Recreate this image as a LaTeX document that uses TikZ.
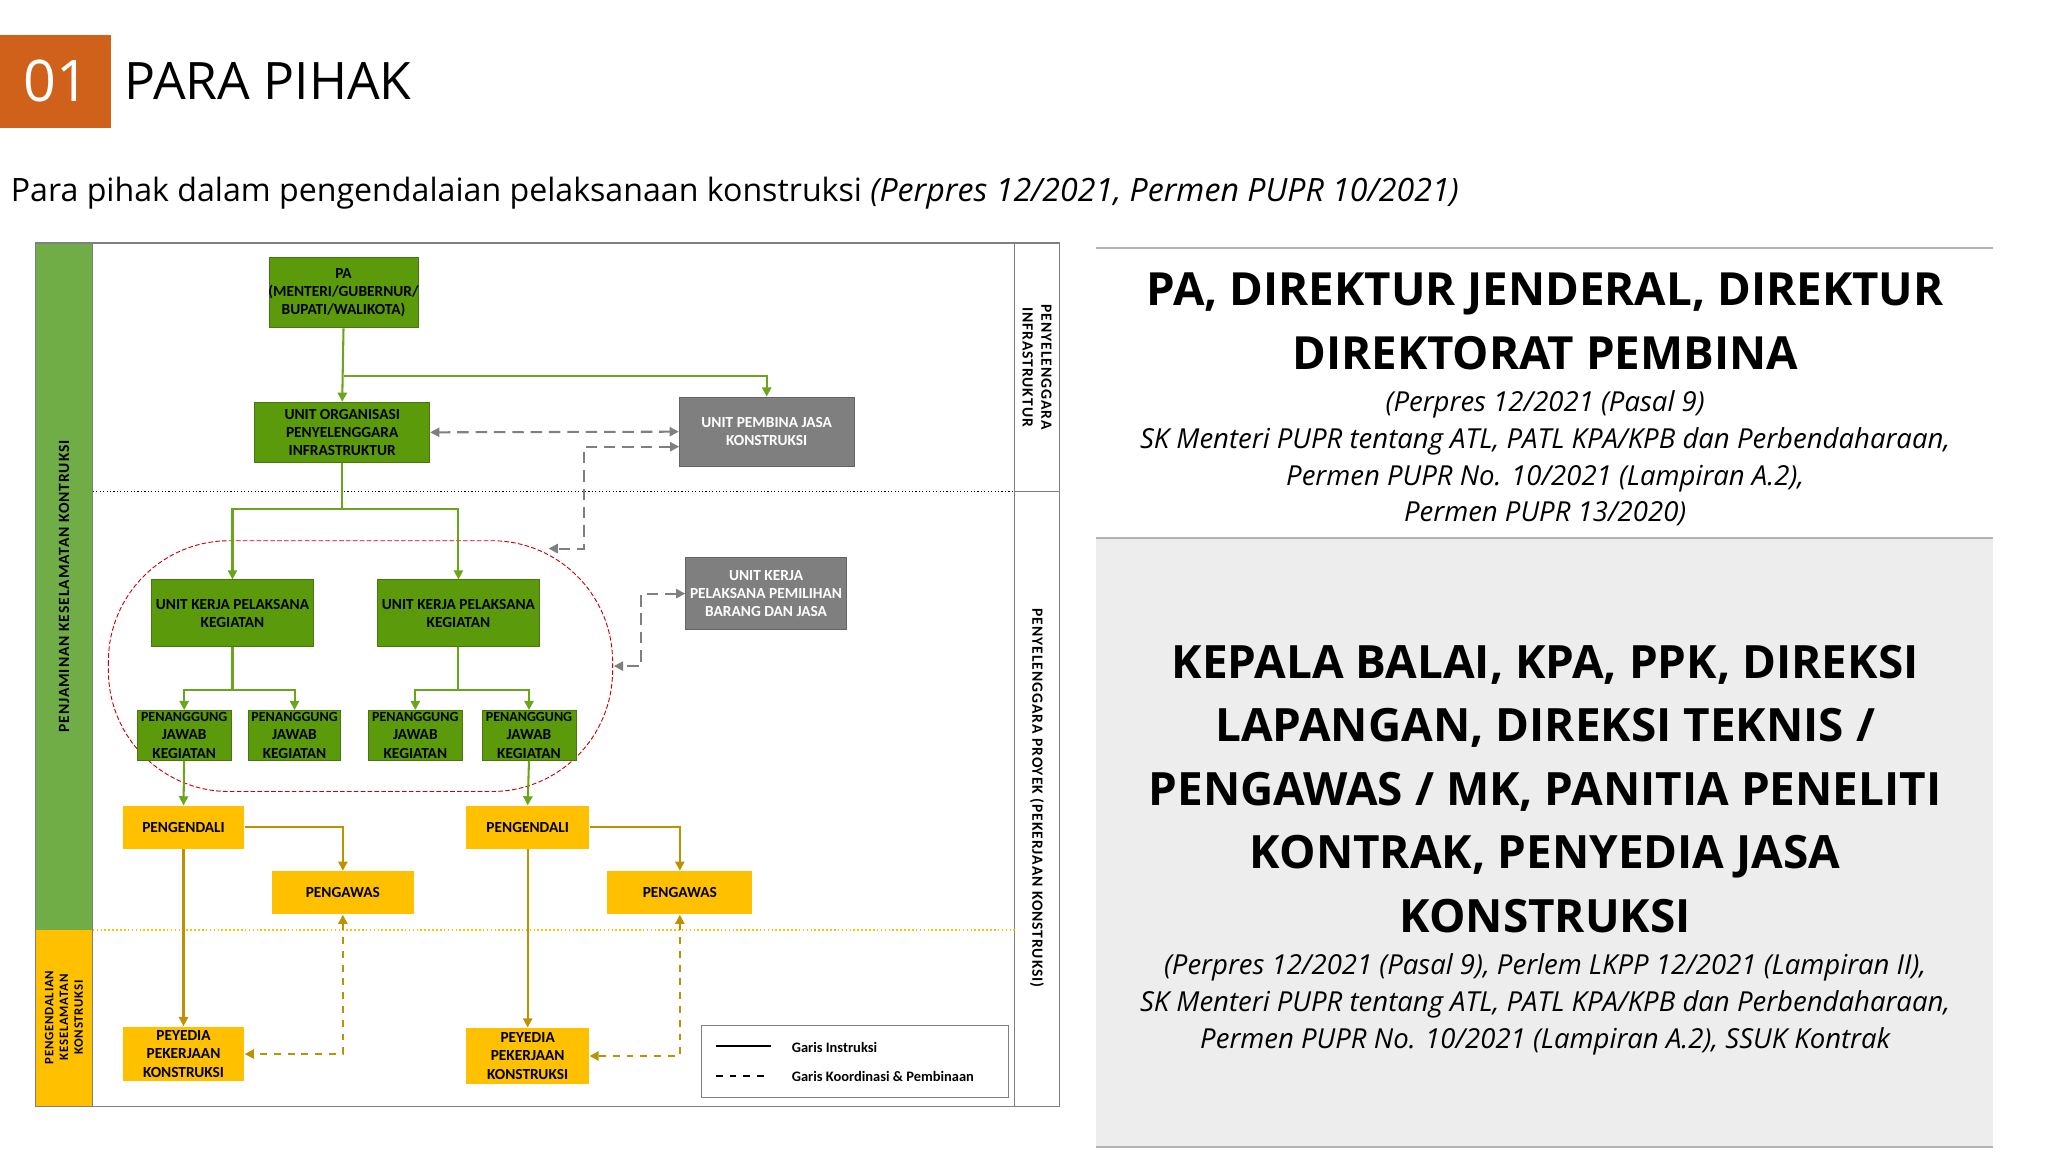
\documentclass[tikz,border=0pt]{standalone}
\usepackage{fontspec}
\setmainfont{Open Sans}
\newfontfamily\dg{Carlito}
\newfontfamily\dgw[LetterSpace=6]{Carlito}
\usetikzlibrary{fit,arrows.meta}
\definecolor{gbox}{HTML}{5B9A0A}
\definecolor{gline}{HTML}{6AA51B}
\definecolor{gband}{HTML}{70AD47}
\definecolor{ybox}{HTML}{FFC000}
\definecolor{yline}{HTML}{BF9000}
\definecolor{grbox}{HTML}{7F7F7F}
\definecolor{orng}{HTML}{D0611A}
\tikzset{
 gb/.style={draw=gline!70!black,line width=0.4pt,fill=gbox},
 yb/.style={fill=ybox},
 grb/.style={fill=grbox,draw=grbox!80!black},
 gl/.style={draw=gline,line width=0.9pt,-{Triangle[length=4pt,width=4pt]}},
 yl/.style={draw=yline,line width=0.9pt,-{Triangle[length=4pt,width=4pt]}},
 ydl/.style={yl,dashed,{Triangle[length=4pt,width=4pt]}-{Triangle[length=4pt,width=4pt]}},
 grl/.style={draw=grbox,line width=0.9pt,dashed,dash pattern=on 5pt off 3pt,{Triangle[length=4pt,width=4pt]}-{Triangle[length=4pt,width=4pt]}},
 dt/.style={font=\dg\bfseries\fontsize{6.7}{7.9}\selectfont,align=center},
 st/.style={font=\dgw\bfseries\fontsize{6.8}{8.2}\selectfont,align=center},
}
\newcommand\bx[7]{\path (#2,#3) coordinate (#1-a) (#4,#5) coordinate (#1-b);
 \node[#6,fit=(#1-a)(#1-b),inner sep=0pt] (#1) {};
 \node[dt] at (#1) {#7};}
\newcommand\pjk{\fontsize{6.1}{7.4}\selectfont PENANGGUNG\\JAWAB\\KEGIATAN}
\begin{document}
\begin{tikzpicture}[x=0.02cm,y=-0.02cm]
\useasboundingbox (0,0) rectangle (1568,882);
% title
\fill[orng] (0,27) rectangle (85,98);
\node[text=white,font=\fontsize{25}{30}\selectfont] (num) at (43,62) {01};
\node[anchor=west,font=\fontsize{22.5}{30}\selectfont,inner sep=0pt] (ttl) at (95,62) {PARA PIHAK};
\node[anchor=west,font=\fontsize{14}{17}\selectfont,inner sep=0pt] (sub) at (8,148) {Para pihak dalam pengendalaian pelaksanaan konstruksi \textit{(Perpres 12/2021, Permen PUPR 10/2021)}};
% frame
\fill[gband] (27,186) rectangle (71,712);
\fill[ybox] (27,712) rectangle (71,847);
\draw[gray,line width=0.5pt] (27,186) rectangle (811,847);
\draw[gray,line width=0.5pt] (71,186)--(71,847) (777,186)--(777,847) (777,376)--(811,376);
\draw[densely dotted,line width=0.5pt] (71,376)--(777,376);
\draw[densely dotted,ybox,line width=0.7pt] (71,712)--(777,712);
\node[st,rotate=90] (l1) at (49,449) {PENJAMINAN KESELAMATAN KONTRUKSI};
\node[st,rotate=90,font=\dgw\bfseries\fontsize{5.6}{6.4}\selectfont] (l2) at (49,779) {PENGENDALIAN\\KESELAMATAN\\KONSTRUKSI};
\node[st,rotate=-90] (l3) at (794,281) {PENYELENGGARA\\INFRASTRUKTUR};
\node[st,rotate=-90] (l4) at (794,611) {PENYELENGGARA PROYEK (PEKERJAAN KONSTRUKSI)};
% red region
\draw[red!80!black,dashed,dash pattern=on 2pt off 1pt,line width=0.4pt,rounded corners=1.85cm] (83,414) rectangle (469,606);
% boxes
\bx{pa}{206}{197}{320}{251}{gb}{PA\\(MENTERI/GUBERNUR/\\BUPATI/WALIKOTA)}
\bx{uo}{195}{308}{329}{354}{gb}{UNIT ORGANISASI\\PENYELENGGARA\\INFRASTRUKTUR}
\bx{up}{520}{304}{654}{357}{grb}{\textcolor{white}{UNIT PEMBINA JASA}\\\textcolor{white}{KONSTRUKSI}}
\bx{k1}{116}{444}{240}{495}{gb}{UNIT KERJA PELAKSANA\\KEGIATAN}
\bx{k2}{289}{444}{413}{495}{gb}{UNIT KERJA PELAKSANA\\KEGIATAN}
\bx{pb}{525}{427}{648}{482}{grb}{\textcolor{white}{UNIT KERJA}\\\textcolor{white}{PELAKSANA PEMILIHAN}\\\textcolor{white}{BARANG DAN JASA}}
\bx{j1}{105}{544}{177}{582}{gb}{\pjk}
\bx{j2}{190}{544}{261}{582}{gb}{\pjk}
\bx{j3}{282}{544}{354}{582}{gb}{\pjk}
\bx{j4}{369}{544}{441}{582}{gb}{\pjk}
\bx{c1}{94}{617}{187}{650}{yb}{PENGENDALI}
\bx{c2}{357}{617}{451}{650}{yb}{PENGENDALI}
\bx{w1}{208}{667}{317}{700}{yb}{PENGAWAS}
\bx{w2}{465}{667}{576}{700}{yb}{PENGAWAS}
\bx{p1}{94}{786}{187}{828}{yb}{PEYEDIA\\PEKERJAAN\\KONSTRUKSI}
\bx{p2}{357}{787}{451}{830}{yb}{PEYEDIA\\PEKERJAAN\\KONSTRUKSI}
% green arrows
\draw[gl] (pa.south)--(uo.north);
\draw[gl] (263,288)-|(up.north);
\draw[gl] (uo.south)--(262,390)-|(k1.north);
\draw[gl] (262,390)-|(k2.north);
\draw[gl] (k1.south)--(178,528)-|(j1.north);
\draw[gl] (178,528)-|(j2.north);
\draw[gl] (k2.south)--(351,528)-|(j3.north);
\draw[gl] (351,528)-|(j4.north);
\draw[gl] (j1.south)--(c1.north);
\draw[gl] (j4.south)--(c2.north);
% yellow arrows
\draw[yl] (c1.east)-|(w1.north);
\draw[yl] (c2.east)-|(w2.north);
\draw[yl] (c1.south)--(p1.north);
\draw[yl] (c2.south)--(p2.north);
\draw[ydl] (w1.south)|-(p1.east);
\draw[ydl] (w2.south)|-(p2.east);
% gray dashed
\draw[grl] (uo.east)--(up.west);
\coordinate (e1) at (420,420);
\coordinate (e2) at (470,510);
\draw[grl] (520,342)-|(447,420)--(e1);
\draw[grl] (pb.west)-|(491,510)--(e2);
% legend
\draw[gray,line width=0.5pt] (537,785) rectangle (772,840);
\draw[line width=0.7pt] (548,801)--(590,801);
\draw[line width=0.7pt,dashed] (548,824)--(590,824);
\node[dt,anchor=west,font=\dg\bfseries\fontsize{6.3}{7}\selectfont] (lg1) at (600,802) {Garis Instruksi};
\node[dt,anchor=west,font=\dg\bfseries\fontsize{6.3}{7}\selectfont] (lg2) at (600,824) {Garis Koordinasi \& Pembinaan};
% right panel
\fill[black!7] (839,413) rectangle (1526,878);
\draw[gray!60,line width=0.8pt] (839,190)--(1526,190) (839,412)--(1526,412) (839,878)--(1526,878);
\node[align=center,font=\bfseries\fontsize{19.9}{27.5}\selectfont] (t1) at (1183,246) {PA, DIREKTUR JENDERAL, DIREKTUR\\DIREKTORAT PEMBINA};
\node[align=center,font=\itshape\fontsize{12}{16}\selectfont] (t2) at (1183,351) {(Perpres 12/2021 (Pasal 9)\\SK Menteri PUPR tentang ATL, PATL KPA/KPB dan Perbendaharaan,\\Permen PUPR No. 10/2021 (Lampiran A.2),\\Permen PUPR 13/2020)};
\node[align=center,font=\bfseries\fontsize{20}{27.7}\selectfont] (t3) at (1183,604) {KEPALA BALAI, KPA, PPK, DIREKSI\\LAPANGAN, DIREKSI TEKNIS /\\PENGAWAS / MK, PANITIA PENELITI\\KONTRAK, PENYEDIA JASA\\KONSTRUKSI};
\node[align=center,font=\itshape\fontsize{12}{16}\selectfont] (t4) at (1183,769) {(Perpres 12/2021 (Pasal 9), Perlem LKPP 12/2021 (Lampiran II),\\SK Menteri PUPR tentang ATL, PATL KPA/KPB dan Perbendaharaan,\\Permen PUPR No. 10/2021 (Lampiran A.2), SSUK Kontrak};
\end{tikzpicture}
\end{document}
